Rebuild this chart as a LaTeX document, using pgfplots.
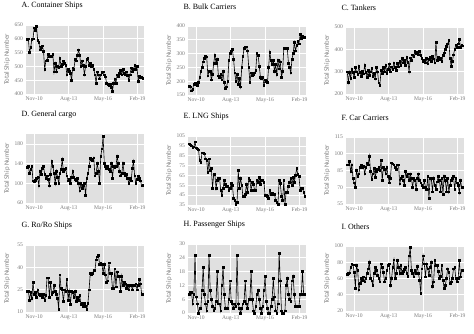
\documentclass[border=0pt]{standalone}
\usepackage{fontspec}
\setmainfont{Liberation Serif}
\newfontfamily\labfont{Carlito}
\usepackage{pgfplots}
\pgfplotsset{compat=1.18}
\definecolor{bgc}{HTML}{E0E0E0}
\definecolor{tkc}{HTML}{7A7A7A}
\definecolor{ylc}{HTML}{808080}

\pgfplotsset{
  panel/.style={
    scale only axis, width=118pt, height=69pt, anchor=north west,
    xmin=-1, xmax=100,
    xtick={6,35.5,65,94.5},
    xticklabels={Nov-10,Aug-13,May-16,Feb-19},
    axis background/.style={fill=bgc},
    axis line style={draw=none},
    major tick length=0pt,
    grid=major, major grid style={white, line width=0.7pt},
    /pgf/number format/assume math mode=true,
    tick label style={font=\fontsize{5.6}{6}\selectfont, text=tkc},
    xticklabel style={yshift=0.5pt},
    yticklabel style={xshift=0.5pt},
    ylabel={Total Ship Number},
    every axis y label/.style={at={(axis description cs:-0.16,0.5)}, rotate=90, anchor=center, font=\labfont\fontsize{6.8}{7}\selectfont, text=ylc},
    title style={at={(axis description cs:0,1)}, anchor=west, xshift=-8pt, yshift=13pt, font=\fontsize{8}{9}\selectfont},
    clip=false,
  },
  ser/.style={black, line width=0.6pt, mark=square*, mark size=0.85pt, mark options={black}},
}

\begin{document}
\begin{tikzpicture}
\useasboundingbox (0,0) rectangle (474pt,333pt);
% Row 1
\begin{axis}[panel, at={(26pt,308pt)}, title={A. Container Ships}, ymin=400, ymax=650, ytick={400,450,500,550,600,650}]
\addplot[ser] table[row sep=\\, x expr=\coordindex, y=v] {v\\598\\600\\550\\568\\598\\600\\640\\632\\645\\595\\588\\560\\570\\575\\555\\490\\520\\522\\545\\535\\538\\535\\545\\480\\510\\480\\500\\498\\530\\500\\508\\520\\510\\505\\470\\490\\482\\475\\450\\495\\490\\525\\520\\540\\560\\540\\500\\520\\505\\470\\500\\525\\530\\505\\510\\500\\505\\490\\470\\440\\480\\470\\455\\470\\478\\480\\470\\462\\440\\436\\430\\435\\425\\410\\440\\455\\440\\470\\465\\475\\485\\470\\490\\475\\470\\480\\468\\450\\470\\495\\480\\490\\505\\490\\500\\445\\465\\460\\462\\458\\};
\end{axis}
\begin{axis}[panel, at={(188pt,307pt)}, title={B. Bulk Carriers}, ymin=150, ymax=400, ytick={150,200,250,300,350,400}]
\addplot[ser] table[row sep=\\, x expr=\coordindex, y=v] {v\\182\\180\\165\\170\\190\\192\\190\\185\\195\\215\\235\\250\\270\\282\\290\\288\\220\\235\\235\\205\\225\\265\\295\\265\\280\\220\\215\\225\\205\\235\\195\\175\\180\\200\\275\\300\\310\\315\\280\\230\\200\\225\\190\\210\\180\\250\\290\\320\\325\\325\\310\\250\\195\\230\\220\\225\\230\\240\\300\\295\\255\\215\\210\\215\\185\\205\\200\\195\\250\\305\\275\\260\\275\\235\\260\\225\\275\\245\\270\\215\\235\\320\\320\\320\\318\\265\\250\\230\\280\\300\\340\\310\\330\\345\\335\\370\\355\\365\\358\\360\\};
\end{axis}
\begin{axis}[panel, at={(346pt,306pt)}, height=67pt, title={C. Tankers}, ymin=200, ymax=500, ytick={200,300,400,500}]
\addplot[ser] table[row sep=\\, x expr=\coordindex, y=v] {v\\300\\252\\298\\270\\312\\296\\275\\318\\300\\288\\325\\298\\280\\302\\290\\330\\296\\276\\305\\285\\300\\315\\280\\292\\268\\318\\300\\250\\240\\305\\290\\318\\300\\328\\292\\310\\335\\300\\322\\312\\340\\318\\305\\338\\322\\345\\328\\360\\340\\352\\330\\365\\342\\300\\362\\350\\375\\368\\390\\380\\388\\375\\392\\372\\360\\345\\350\\340\\360\\335\\355\\365\\345\\368\\358\\340\\432\\350\\365\\355\\360\\345\\372\\385\\400\\415\\425\\440\\360\\325\\345\\375\\400\\420\\410\\425\\445\\410\\418\\416\\};
\end{axis}
% Row 2
\begin{axis}[panel, at={(26pt,199pt)}, title={D. General cargo}, ymin=60, ymax=200, ytick={60,100,140,180}]
\addplot[ser] table[row sep=\\, x expr=\coordindex, y=v] {v\\132\\135\\120\\128\\135\\105\\104\\106\\110\\112\\95\\125\\118\\130\\135\\118\\110\\115\\108\\95\\118\\145\\135\\120\\100\\125\\112\\100\\120\\128\\148\\125\\128\\130\\115\\105\\108\\100\\112\\125\\112\\108\\105\\110\\100\\85\\100\\90\\96\\100\\75\\110\\120\\135\\150\\148\\146\\152\\115\\120\\140\\125\\100\\155\\170\\195\\140\\135\\130\\135\\128\\125\\140\\110\\135\\132\\135\\155\\140\\125\\115\\120\\140\\120\\115\\118\\110\\100\\110\\105\\130\\145\\115\\100\\108\\115\\110\\105\\95\\96\\};
\end{axis}
\begin{axis}[panel, at={(188pt,197pt)}, title={E. LNG Ships}, ymin=35, ymax=105, ytick={35,45,55,65,75,85,95,105}]
\addplot[ser] table[row sep=\\, x expr=\coordindex, y=v] {v\\97\\96\\95\\93\\94\\99\\93\\92\\91\\80\\78\\88\\88\\87\\82\\80\\68\\82\\70\\72\\52\\66\\66\\52\\60\\62\\62\\50\\45\\52\\60\\56\\54\\54\\50\\52\\57\\55\\42\\40\\36\\38\\70\\52\\62\\55\\44\\44\\46\\56\\48\\62\\60\\50\\58\\56\\50\\50\\60\\58\\63\\56\\60\\60\\58\\45\\45\\44\\42\\50\\46\\47\\46\\46\\40\\38\\36\\60\\57\\44\\40\\60\\36\\48\\48\\54\\58\\62\\55\\63\\58\\65\\72\\66\\64\\50\\52\\52\\48\\44\\};
\end{axis}
\begin{axis}[panel, at={(346pt,196pt)}, height=67pt, title={F. Car Carriers}, ymin=55, ymax=115, ytick={55,70,85,100,115}]
\addplot[ser] table[row sep=\\, x expr=\coordindex, y=v] {v\\90\\90\\93\\84\\90\\78\\74\\70\\85\\80\\82\\88\\90\\88\\89\\82\\88\\92\\90\\98\\84\\77\\82\\87\\79\\84\\86\\88\\85\\94\\76\\88\\86\\82\\88\\80\\74\\78\\92\\91\\90\\88\\86\\90\\90\\73\\78\\80\\76\\72\\84\\80\\82\\76\\82\\78\\70\\78\\76\\68\\78\\82\\76\\74\\72\\70\\76\\70\\68\\80\\60\\78\\78\\66\\78\\72\\68\\75\\80\\76\\66\\78\\64\\80\\76\\66\\78\\66\\72\\76\\78\\80\\68\\78\\74\\72\\65\\76\\70\\70\\};
\end{axis}
% Row 3
\begin{axis}[panel, at={(26pt,88pt)}, height=67pt, title={G. Ro/Ro Ships}, ymin=10, ymax=55, ytick={10,25,40,55}]
\addplot[ser] table[row sep=\\, x expr=\coordindex, y=v] {v\\24\\24\\18\\23\\19\\30\\22\\23\\20\\25\\22\\21\\22\\20\\22\\18\\21\\33\\33\\20\\30\\22\\23\\28\\24\\22\\19\\12\\35\\26\\25\\17\\25\\24\\32\\18\\24\\15\\24\\23\\20\\24\\17\\20\\18\\21\\15\\16\\14\\16\\14\\12\\16\\25\\36\\35\\36\\38\\38\\45\\47\\48\\42\\43\\42\\36\\42\\35\\30\\31\\43\\36\\36\\26\\26\\39\\27\\37\\34\\34\\24\\34\\28\\30\\29\\26\\28\\25\\28\\28\\25\\28\\28\\29\\25\\28\\32\\29\\22\\22\\};
\end{axis}
\begin{axis}[panel, at={(188pt,89pt)}, title={H. Passenger Ships}, ymin=0, ymax=30, ytick={0,6,12,18,24,30}]
\addplot[ser] table[row sep=\\, x expr=\coordindex, y=v] {v\\8\\9\\9\\4\\8\\25\\7\\4\\0\\2\\2\\10\\20\\8\\4\\1\\5\\25\\10\\6\\3\\1\\2\\5\\18\\4\\4\\1\\12\\20\\8\\2\\2\\2\\6\\14\\5\\4\\2\\4\\3\\25\\4\\2\\0\\2\\4\\5\\14\\4\\2\\6\\6\\18\\6\\1\\0\\3\\8\\10\\6\\2\\0\\3\\10\\16\\5\\2\\0\\0\\3\\6\\15\\7\\1\\0\\4\\26\\14\\1\\0\\0\\1\\12\\15\\8\\6\\5\\14\\16\\8\\3\\3\\3\\3\\8\\8\\18\\8\\8\\};
\end{axis}
\begin{axis}[panel, at={(346pt,87pt)}, height=65pt, title={I. Others}, ymin=20, ymax=100, ytick={20,40,60,80,100}]
\addplot[ser] table[row sep=\\, x expr=\coordindex, y=v] {v\\65\\66\\67\\74\\78\\77\\68\\48\\76\\70\\46\\54\\60\\58\\62\\56\\60\\66\\72\\80\\60\\57\\52\\66\\74\\70\\64\\60\\56\\78\\74\\68\\56\\60\\70\\76\\78\\52\\60\\74\\83\\60\\66\\82\\74\\66\\76\\66\\69\\71\\74\\66\\63\\88\\98\\70\\66\\62\\70\\66\\75\\66\\58\\42\\72\\88\\78\\62\\78\\72\\64\\74\\80\\50\\56\\82\\76\\76\\69\\60\\63\\76\\58\\48\\52\\60\\72\\68\\54\\56\\60\\72\\74\\60\\56\\60\\82\\62\\70\\70\\};
\end{axis}
\end{tikzpicture}
\end{document}
